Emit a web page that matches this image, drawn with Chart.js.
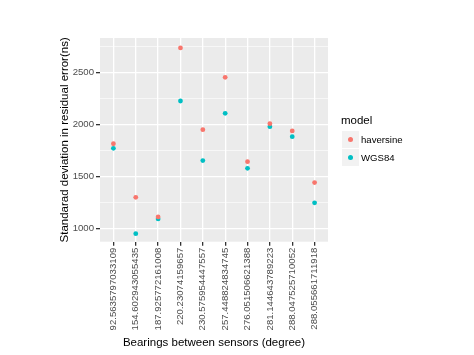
<!DOCTYPE html>
<html>
<head>
<meta charset="utf-8">
<script src="https://cdn.jsdelivr.net/npm/chart.js@4"></script>
<style>
  html, body { margin: 0; padding: 0; background: #ffffff; }
  #wrap { position: relative; width: 474px; height: 355px; }
  #c { position: absolute; left: 0; top: 0; }
  .lg { position: absolute; font-family: "Liberation Sans", Arial, sans-serif; color: #000; white-space: nowrap; }
  .key { position: absolute; width: 17px; height: 17px; background: #F2F2F2; }
  .dot { position: absolute; left: 6px; top: 6px; width: 5px; height: 5px; border-radius: 50%; }
</style>
</head>
<body>
<div id="wrap">
  <canvas id="c" width="474" height="355"></canvas>
  <div class="lg" style="left:341px; top:114px; font-size:11.5px;">model</div>
  <div class="key" style="left:342px; top:131px;"><div class="dot" style="background:#F8766D"></div></div>
  <div class="lg" style="left:361px; top:134px; font-size:9.6px;">haversine</div>
  <div class="key" style="left:342px; top:149px;"><div class="dot" style="background:#00BFC4"></div></div>
  <div class="lg" style="left:361px; top:152px; font-size:9.6px;">WGS84</div>
</div>
<script>
const categories = [
  "92.5635797033109", "154.602943055435", "187.925772161008", "220.23074159657",
  "230.575954447557", "257.448824834745", "276.051506621388", "281.144643789223",
  "288.047525710052", "288.055661711918"
];
const haversine = [1813, 1298, 1109, 2735, 1948, 2452, 1641, 2006, 1936, 1440];
const wgs84     = [1769, 948, 1090, 2224, 1651, 2106, 1577, 1977, 1881, 1245];
const yTicks = [1000, 1250, 1500, 1750, 2000, 2250, 2500, 2750];
const yMajor = [1000, 1500, 2000, 2500];

const FONT = "'Liberation Sans', Arial, sans-serif";

const toPts = arr => arr.map((v, i) => ({ x: i, y: v }));

const panelBg = {
  id: 'panelBg',
  beforeDraw(chart) {
    const { ctx, chartArea: a } = chart;
    ctx.save();
    ctx.fillStyle = '#EBEBEB';
    ctx.fillRect(a.left, a.top, a.right - a.left, a.bottom - a.top);
    ctx.restore();
  }
};

new Chart(document.getElementById('c'), {
  type: 'scatter',
  data: {
    datasets: [
      { label: 'haversine', data: toPts(haversine), backgroundColor: '#F8766D', borderColor: '#F8766D', pointRadius: 2.4, borderWidth: 0 },
      { label: 'WGS84', data: toPts(wgs84), backgroundColor: '#00BFC4', borderColor: '#00BFC4', pointRadius: 2.4, borderWidth: 0 }
    ]
  },
  options: {
    responsive: false,
    animation: false,
    devicePixelRatio: 1,
    layout: { padding: { top: 38, right: 146, left: 0, bottom: 0 } },
    plugins: { legend: { display: false }, tooltip: { enabled: false } },
    scales: {
      x: {
        type: 'linear',
        min: -0.6,
        max: categories.length - 1 + 0.6,
        afterBuildTicks(scale) { scale.ticks = categories.map((_, i) => ({ value: i })); },
        afterFit(scale) { scale.height = 113.3; },
        border: { display: false },
        grid: { color: '#FFFFFF', lineWidth: 1.3, tickColor: '#333333', tickLength: 4, drawOnChartArea: true },
        ticks: {
          autoSkip: false, minRotation: 90, maxRotation: 90, padding: 2,
          color: '#4D4D4D', font: { family: FONT, size: 9.6 },
          callback: (v) => categories[v]
        },
        title: {
          display: true, text: 'Bearings between sensors (degree)', color: '#000000',
          font: { family: FONT, size: 11.5 }, padding: { top: 0, bottom: 5 }
        }
      },
      y: {
        type: 'linear',
        min: 871,
        max: 2830,
        afterBuildTicks(scale) { scale.ticks = yTicks.map(v => ({ value: v })); },
        afterFit(scale) { scale.width = 100; },
        border: { display: false },
        grid: {
          color: '#FFFFFF',
          lineWidth: (ctx) => yMajor.includes(ctx.tick && ctx.tick.value) ? 1.3 : 0.6,
          tickColor: (ctx) => yMajor.includes(ctx.tick && ctx.tick.value) ? '#333333' : 'rgba(0,0,0,0)',
          tickLength: 4
        },
        ticks: {
          autoSkip: false, padding: 2, color: '#4D4D4D', font: { family: FONT, size: 9.6 },
          callback: (v) => yMajor.includes(v) ? String(v) : ''
        },
        title: {
          display: true, text: 'Standarad deviation in residual error(ns)', color: '#000000',
          font: { family: FONT, size: 11.5 }, padding: { top: 58, bottom: 0 }
        }
      }
    }
  },
  plugins: [panelBg]
});
</script>
</body>
</html>
